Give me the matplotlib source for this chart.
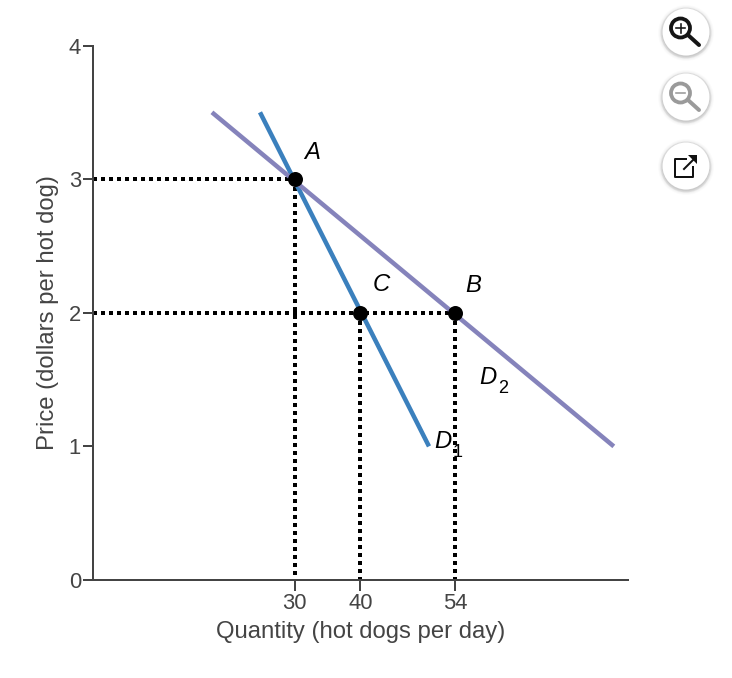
import matplotlib
matplotlib.use("Agg")
import matplotlib.pyplot as plt
from matplotlib.patches import Circle
from matplotlib.lines import Line2D

plt.rcParams['font.family'] = ['Liberation Sans', 'DejaVu Sans']

# Data
d1_q = [24.85, 50.0]
d1_p = [3.5, 1.0]
d2_q = [17.7, 77.5]
d2_p = [3.5, 1.0]
point_names = ['A', 'C', 'B']
point_q = [30.0, 39.8, 53.9]
point_p = [3.0, 2.0, 2.0]
x_tick_pos = [30.0, 39.8, 53.9]
x_tick_labels = ['30', '40', '54']
y_ticks = [0, 1, 2, 3, 4]
x_label = 'Quantity (hot dogs per day)'
y_label = 'Price (dollars per hot dog)'

W, H = 732, 678
DPI = 100
px = 72 / DPI
GREY = '#444444'
TEXT = 17.2

fig = plt.figure(figsize=(W / DPI, H / DPI), dpi=DPI, facecolor='white')
ax = fig.add_axes([93 / W, (H - 580) / H, (628 - 93) / W, (580 - 45.5) / H])
ax.set_xlim(0, (628 - 93) / 6.72)
ax.set_ylim(0, 4)
for s in ['top', 'right']:
    ax.spines[s].set_visible(False)
for s in ['left', 'bottom']:
    ax.spines[s].set_linewidth(2 * px)
    ax.spines[s].set_color(GREY)
ax.set_xticks(x_tick_pos, x_tick_labels)
ax.set_yticks(y_ticks)
ax.tick_params(axis='both', length=10.5 * px, width=2 * px, color=GREY,
               labelcolor=GREY, labelsize=15.8)
ax.tick_params(axis='x', pad=1.5)
ax.tick_params(axis='y', pad=1)
ax.set_xlabel(x_label, fontsize=TEXT, color=GREY, labelpad=5)
ax.set_ylabel(y_label, fontsize=TEXT, color=GREY, labelpad=7)
ax.patch.set_alpha(0)

dot = dict(color='black', lw=4 * px, dashes=(1, 1), dash_capstyle='butt', zorder=2,
           clip_on=False)
for q, p in zip(point_q, point_p):
    ax.plot([0, q], [p, p], **dot)
    ax.plot([q, q], [p, 0], **dot)

ax.plot(d1_q, d1_p, color='#3b80bd', lw=4.5 * px, solid_capstyle='butt', zorder=3)
ax.plot(d2_q, d2_p, color='#8583bb', lw=4.5 * px, solid_capstyle='butt', zorder=3)
ax.scatter(point_q, point_p, s=(15 * px) ** 2, color='black', zorder=4, linewidths=0, clip_on=False)

offs = {'A': (10, 27), 'C': (12, 28), 'B': (10, 27)}
for n, q, p in zip(point_names, point_q, point_p):
    ax.annotate(n, (q, p), xytext=(offs[n][0] * px, offs[n][1] * px),
                textcoords='offset points', ha='left', va='center', style='italic',
                fontsize=TEXT, color='black', zorder=5)

def sub_label(anchor, dx, dy, sub):
    ax.annotate('D', anchor, xytext=(dx * px, dy * px), textcoords='offset points',
                ha='left', va='center', style='italic', fontsize=TEXT, color='black', zorder=5)
    ax.annotate(sub, anchor, xytext=((dx + 19) * px, (dy - 11.5) * px),
                textcoords='offset points', ha='left', va='center',
                fontsize=13, color='black', zorder=5)

sub_label((d1_q[1], d1_p[1]), 5, 5, '1')
sub_label((d2_q[1], d2_p[1]), -135, 69, '2')

# Zoom / popout buttons in pixel coordinates
ov = fig.add_axes([0, 0, 1, 1], zorder=10)
ov.set_xlim(0, W)
ov.set_ylim(H, 0)
ov.axis('off')
ov.patch.set_alpha(0)
for cy in [32, 97, 166]:
    for r, a in [(28, .015), (27, .02), (26, .03), (25.5, .04), (25, .05), (24, .06)]:
        ov.add_patch(Circle((686, cy + 1), r, color='black', alpha=a, lw=0))
    ov.add_patch(Circle((686, cy), 23.5, color='white', lw=0))

def glass(cy, col, plus):
    ov.add_patch(Circle((680.5, cy - 4), 9.5, fill=False, ec=col, lw=3.8 * px))
    ov.add_line(Line2D([688, 699], [cy + 3, cy + 13], color=col, lw=4 * px, solid_capstyle='round'))
    ov.add_line(Line2D([676, 685], [cy - 4, cy - 4], color=col, lw=1.6 * px))
    if plus:
        ov.add_line(Line2D([680.5, 680.5], [cy - 8.5, cy + 0.5], color=col, lw=1.6 * px))

glass(32, '#151515', True)
glass(97, '#9a9a9a', False)
ov.add_line(Line2D([686, 675, 675, 693, 693], [159, 159, 177, 177, 167], color='#111111', lw=2 * px))
ov.add_line(Line2D([684, 694], [169, 159], color='#111111', lw=2 * px))
ov.fill([688, 697, 697], [155, 155, 164], color='#111111', lw=0)

fig.savefig('out.png', dpi=DPI)
